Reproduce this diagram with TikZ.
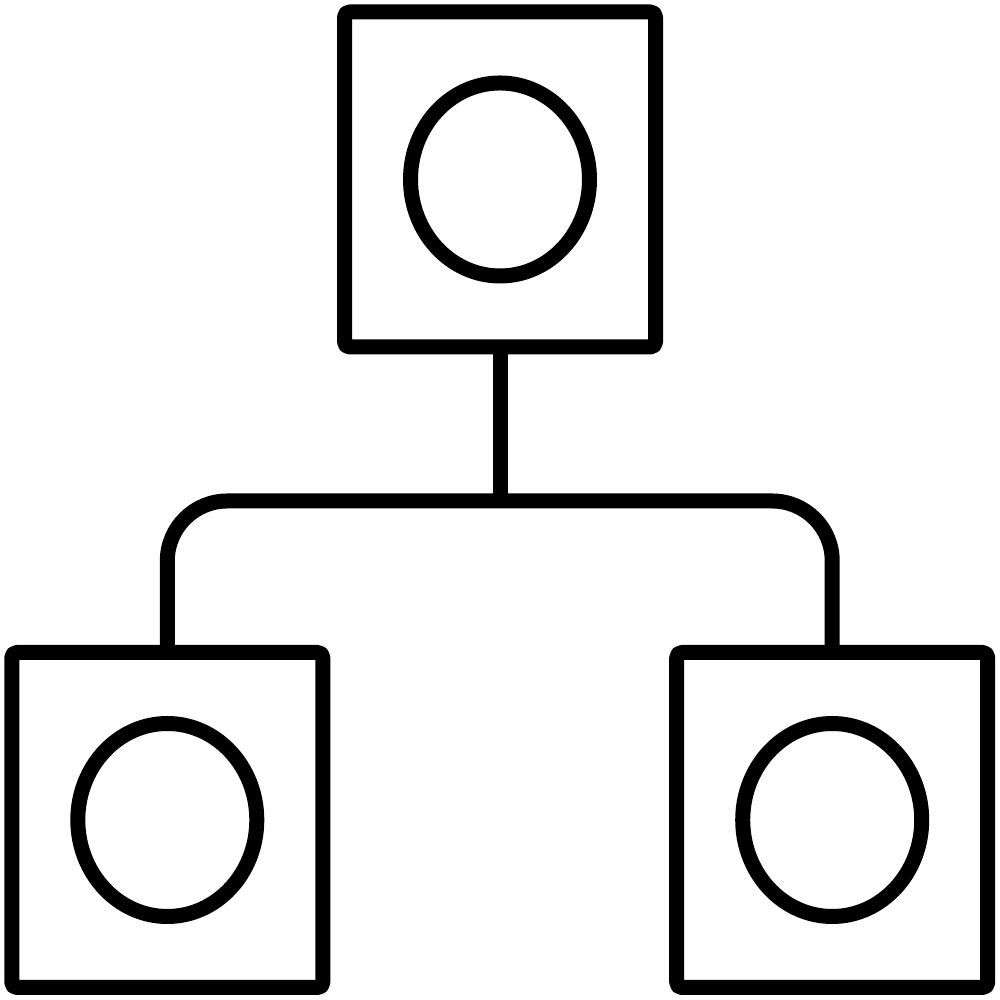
\documentclass[tikz,border=0pt]{standalone}
\usepackage {tikz}
\usetikzlibrary {positioning,shapes.geometric}

\begin{document}
\begin{tikzpicture}[line width =0.15cm ,line join =round ,
    box/.style ={ rectangle ,draw ,rounded corners =0.05cm ,
    minimum width =3.11cm ,minimum height =3.35cm ,inner sep =0},
    disc/.style={ellipse,draw,minimum width =1.79cm,minimum height =1.93cm,inner sep =0}
    ]
\useasboundingbox (0,0) rectangle (10,10);

\node[box] (P) at (5,8.205) {};
\node[box] (L) at (1.673,1.8) {};
\node[box] (R) at (8.322,1.8) {};
\node[disc] (PD) at (P.center) {};
\node[disc] (LD) at (L.center) {};
\node[disc] (RD) at (R.center) {};
\coordinate (J) at (5,4.99);
\draw (P.south) -- (J);
\draw[rounded corners =0.6cm] (J) -| (L.north);
\draw[rounded corners =0.6cm] (J) -| (R.north);
\end{tikzpicture}
\end{document}
